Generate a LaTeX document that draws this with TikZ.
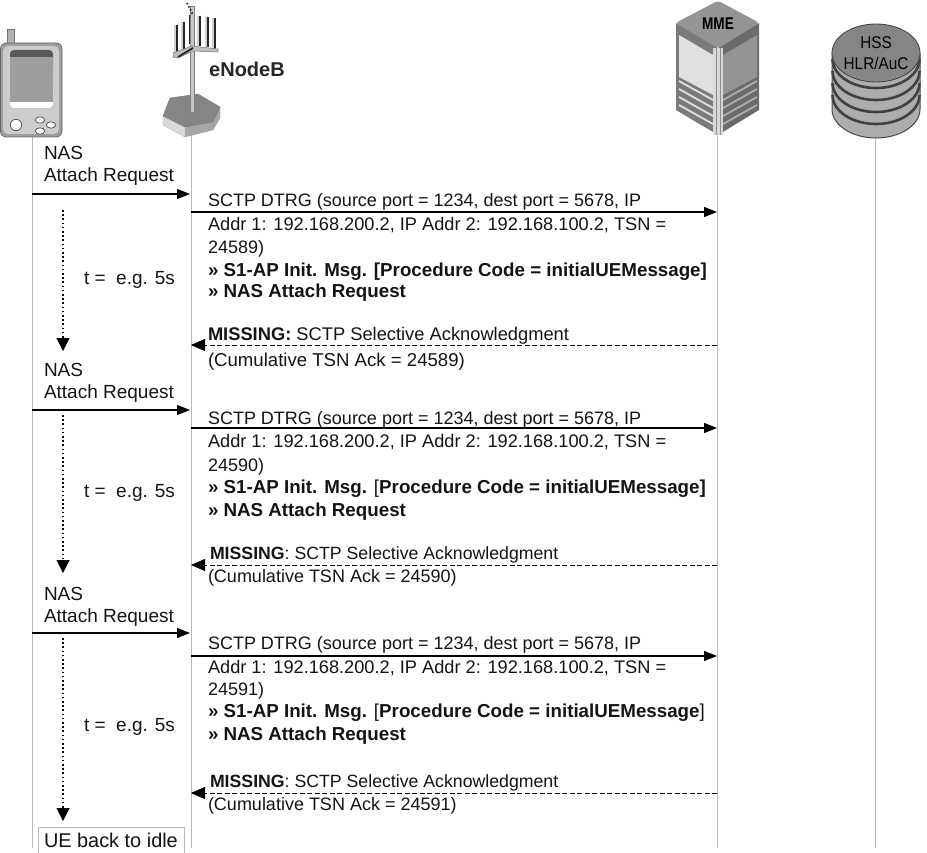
\documentclass[tikz,border=0pt]{standalone}
\usepackage{fontspec}
\setmainfont{Liberation Sans}
\usetikzlibrary{arrows.meta}
\definecolor{lifeg}{gray}{0.72}
\tikzset{
  lbl/.style={anchor=base west,inner sep=0pt,outer sep=0pt,font=\fontsize{18}{18}\selectfont,text=black!92},
  tsize/.style={font=\fontsize{#1}{#1}\selectfont},
  boldline/.style={lbl,font=\fontsize{18.75}{18.75}\selectfont\bfseries},
  side/.style={lbl,tsize=19},
  life/.style={draw=lifeg,line width=1pt},
  msg/.style={draw=black,line width=1.3pt,-{Triangle[length=13pt,width=10pt]}},
  ack/.style={draw=black,line width=0.8pt,dash pattern=on 5pt off 2.5pt,-{Triangle[length=14pt,width=12pt]}},
  timer/.style={draw=black,line width=1.1pt,dash pattern=on 1.6pt off 2.6pt,-{Triangle[length=13pt,width=13pt]}},
}
\begin{document}
\begin{tikzpicture}[x=1pt,y=-1pt]
\useasboundingbox (0,0) rectangle (927,853);
% lifelines
\coordinate (uetop) at (32,135); \coordinate (uebot) at (32,848);
\coordinate (enbtop) at (191,135); \coordinate (enbbot) at (191,848);
\coordinate (mmetop) at (717,130); \coordinate (mmebot) at (717,848);
\coordinate (hsstop) at (875,135); \coordinate (hssbot) at (875,848);
\draw[life] (uetop) -- (uebot);
\draw[life] (enbtop) -- (enbbot);
\draw[life] (mmetop) -- (mmebot);
\draw[life] (hsstop) -- (hssbot);
% UE icon
\fill[gray!60,draw=black!55] (7,29) rectangle (14,44);
\draw[draw=black!60,fill=black!38,line width=.8pt,rounded corners=6pt] (0.5,43) rectangle (62,137);
\fill[black!20,rounded corners=5pt] (3,46) rectangle (59,134);
\fill[black!65,rounded corners=4pt] (10,50) rectangle (53,70);
\fill[white,rounded corners=4pt] (10,90) rectangle (53,108);
\fill[black!38] (10,57) rectangle (53,102);
\draw[black!70,fill=white,line width=.7pt] (16,125) circle (5.7pt);
\draw[black!70,fill=white,line width=.7pt] (40,120) ellipse (4.7pt and 3.2pt);
\draw[black!70,fill=white,line width=.7pt] (51,125) ellipse (4.7pt and 3.2pt);
\draw[black!70,fill=white,line width=.7pt] (40,131) ellipse (4.7pt and 3.2pt);
% eNodeB icon
\fill[black!35,draw=black!35] (185,127) -- (213,122) -- (220,107) -- (220,118) -- (213,130) -- (185,137) -- cycle;
\fill[black!15,draw=black!30] (163,116) -- (163,125) -- (185,137) -- (185,127) -- cycle;
\fill[black!48,draw=black!50] (170,98) -- (198,94) -- (220,107) -- (213,122) -- (185,127) -- (163,116) -- cycle;
\fill[black!22,draw=black!50,line width=.4pt] (190,6) rectangle (194,112);
\foreach \px/\pa/\pb in {176/25/56,183/22/52,199/16/46,207/17/47,214/18/49}{
  \fill[black!18] (\px-2.5,\pa) rectangle (\px,\pb);
  \draw[black!85,line width=2pt] (\px+1,\pa) -- (\px+1,\pb);
}
\draw[black!85,line width=1.6pt] (189.5,15) -- (189.5,44);
\fill[black!25,draw=black!55,line width=.5pt] (173,53) -- (192,46) -- (218,49) -- (218,52) -- (193,51) -- (178,58) -- (173,57) -- cycle;
\draw[black!85,line width=1.8pt] (178,57) -- (193,48);
\draw[black!80,line width=1.8pt,dash pattern=on 1.5pt off 2pt] (187,3) -- (193,15);
\node[anchor=base west,inner sep=0pt,font=\fontsize{20}{20}\selectfont\bfseries,text=black!85] (enblabel) at (209,77) {eNodeB};
% MME icon
\fill[black!52] (676,23) -- (718,48) -- (718,135) -- (676,110) -- cycle;
\fill[black!58] (759,23) -- (718,48) -- (718,135) -- (759,110) -- cycle;
\fill[black!12] (679,35) -- (713,55) -- (713,95) -- (679,77) -- cycle;
\fill[black!42] (723,55) -- (757,35) -- (757,77) -- (723,95) -- cycle;
\foreach \dy in {0,8,16,24}{
  \draw[black!12,line width=1.8pt] (679,{81+\dy}) -- (713,{100+\dy});
  \draw[black!32,line width=1.8pt] (723,{100+\dy}) -- (757,{81+\dy});
}
\fill[black!15] (713,48) rectangle (723,135);
\draw[black!45,line width=.8pt] (716,48) -- (716,135) (720,48) -- (720,135);
\fill[black!42,rounded corners=3pt,draw=black!45] (718,1) -- (759,23) -- (718,48) -- (676,23) -- cycle;
\node[inner sep=0pt,font=\fontsize{17}{17}\selectfont\bfseries,xscale=.8] (mmelabel) at (718,24) {MME};
% HSS icon
\fill[black!32] (832,53) -- (920,53) -- (920,109) arc[start angle=360,end angle=180,x radius=44pt,y radius=29pt] -- cycle;
\foreach \yy in {59,71,83,95}{
  \draw[black!75,line width=2.6pt] (832.5,\yy) arc[start angle=180,end angle=360,x radius=43.5pt,y radius=29pt];
}
\draw[black!72,line width=1pt] (832,53) -- (832,109) arc[start angle=180,end angle=360,x radius=44pt,y radius=29pt] -- (920,53);
\fill[black!48,draw=black!75,line width=.8pt] (876,53) ellipse (44pt and 29pt);
\node[inner sep=0pt,align=center,font=\fontsize{17}{21}\selectfont,xscale=.9] (hsslabel) at (876,53) {HSS\\HLR/AuC};
% Exchange 1
\node[side] (n1a) at (44,160) {NAS};
\node[side] (n1b) at (44,182) {Attach Request};
\coordinate (u1) at (32,194); \coordinate (e1) at (190,194);
\draw[msg] (u1) -- (e1);
\coordinate (e1s) at (191,212); \coordinate (m1s) at (717,212);
\draw[msg] (e1s) -- (m1s);
\node[lbl] (s1a) at (208,207) {SCTP DTRG (source port = 1234, dest port = 5678, IP};
\node[lbl,tsize=18.2] (s1b) at (208,231) {Addr 1: 192.168.200.2, IP Addr 2: 192.168.100.2, TSN =};
\node[lbl] (s1c) at (208,254) {24589)};
\node[boldline] (s1d) at (208,277) {» S1-AP Init. Msg. [Procedure Code = initialUEMessage]};
\node[boldline] (s1e) at (208,298) {» NAS Attach Request};
\coordinate (m1a) at (717,345); \coordinate (e1a) at (191,345);
\draw[ack] (m1a) -- (e1a);
\node[lbl,tsize=18.3] (a1a) at (208,341) {\textbf{MISSING:} SCTP Selective Acknowledgment};
\node[lbl,tsize=18.6] (a1b) at (208,366) {(Cumulative TSN Ack = 24589)};
\coordinate (t1a) at (63,210); \coordinate (t1b) at (63,351);
\draw[timer] (t1a) -- (t1b);
\node[side] (t1) at (84,285) {t =\ \ e.g. 5s};
% Exchange 2
\node[side] (n2a) at (44,376) {NAS};
\node[side] (n2b) at (44,398) {Attach Request};
\coordinate (u2) at (32,410); \coordinate (e2) at (190,410);
\draw[msg] (u2) -- (e2);
\coordinate (e2s) at (191,428); \coordinate (m2s) at (717,428);
\draw[msg] (e2s) -- (m2s);
\node[lbl] (s2a) at (208,424) {SCTP DTRG (source port = 1234, dest port = 5678, IP};
\node[lbl,tsize=18.2] (s2b) at (208,447) {Addr 1: 192.168.200.2, IP Addr 2: 192.168.100.2, TSN =};
\node[lbl] (s2c) at (208,471) {24590)};
\node[boldline] (s2d) at (208,493) {» S1-AP Init. Msg. {\mdseries [}Procedure Code = initialUEMessage]};
\node[boldline] (s2e) at (208,516) {» NAS Attach Request};
\coordinate (m2a) at (717,565); \coordinate (e2a) at (191,565);
\draw[ack] (m2a) -- (e2a);
\node[lbl,tsize=17.7] (a2a) at (210,559) {\textbf{MISSING}: SCTP Selective Acknowledgment};
\node[lbl] (a2b) at (208,582) {(Cumulative TSN Ack = 24590)};
\coordinate (t2a) at (63,415); \coordinate (t2b) at (63,573);
\draw[timer] (t2a) -- (t2b);
\node[side] (t2) at (84,497) {t =\ \ e.g. 5s};
% Exchange 3
\node[side] (n3a) at (44,600) {NAS};
\node[side] (n3b) at (44,622) {Attach Request};
\coordinate (u3) at (32,633); \coordinate (e3) at (190,633);
\draw[msg] (u3) -- (e3);
\coordinate (e3s) at (191,656); \coordinate (m3s) at (717,656);
\draw[msg] (e3s) -- (m3s);
\node[lbl] (s3a) at (208,649) {SCTP DTRG (source port = 1234, dest port = 5678, IP};
\node[lbl,tsize=18.2] (s3b) at (208,673) {Addr 1: 192.168.200.2, IP Addr 2: 192.168.100.2, TSN =};
\node[lbl] (s3c) at (208,695) {24591)};
\node[boldline] (s3d) at (208,717) {» S1-AP Init. Msg. {\mdseries [}Procedure Code = initialUEMessage{\mdseries ]}};
\node[boldline] (s3e) at (208,740) {» NAS Attach Request};
\coordinate (m3a) at (717,793); \coordinate (e3a) at (191,793);
\draw[ack] (m3a) -- (e3a);
\node[lbl,tsize=17.7] (a3a) at (210,787) {\textbf{MISSING}: SCTP Selective Acknowledgment};
\node[lbl] (a3b) at (208,810) {(Cumulative TSN Ack = 24591)};
\coordinate (t3a) at (63,638); \coordinate (t3b) at (63,821);
\draw[timer] (t3a) -- (t3b);
\node[side] (t3) at (84,731) {t =\ \ e.g. 5s};
% UE back to idle
\fill[white] (38,827) rectangle (185,853);
\draw[draw=lifeg,line width=.7pt] (38,853) -- (38,827) -- (184,827) -- (184,853);
\node[lbl,tsize=19.9] (idle) at (44,847) {UE back to idle};
\end{tikzpicture}
\end{document}
